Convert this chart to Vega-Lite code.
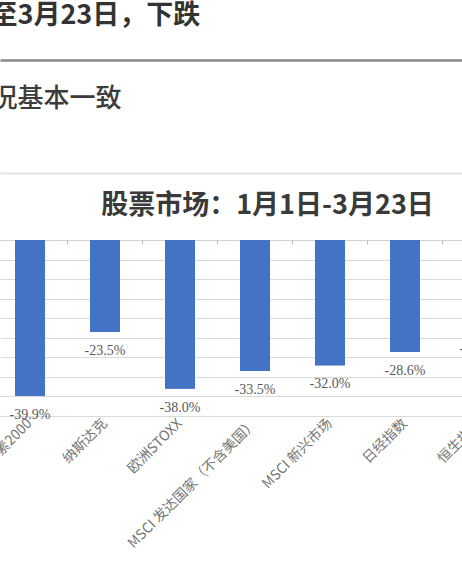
{
  "$schema": "https://vega.github.io/schema/vega-lite/v6.json",
  "width": 510,
  "height": 176,
  "autosize": {"type": "none"},
  "padding": {"left": 0, "top": 240, "right": 0, "bottom": 161},
  "background": "white",
  "config": {
    "view": {"stroke": null},
    "font": "Noto Sans CJK SC",
    "locale": {"number": {"decimal": ".", "thousands": ",", "grouping": [3], "currency": ["", ""], "minus": "-"}}
  },
  "data": {
    "values": [
      {"market": "罗素2000", "change": -0.399},
      {"market": "纳斯达克", "change": -0.235},
      {"market": "欧洲STOXX", "change": -0.38},
      {"market": "MSCI 发达国家（不含美国）", "change": -0.335},
      {"market": "MSCI 新兴市场", "change": -0.32},
      {"market": "日经指数", "change": -0.286},
      {"market": "恒生指数", "change": -0.23}
    ]
  },
  "encoding": {
    "y": {
      "field": "change",
      "type": "quantitative",
      "scale": {"domain": [-0.45, 0], "nice": false, "zero": true},
      "axis": {
        "orient": "left",
        "grid": true,
        "gridColor": "#d9d9d9",
        "gridWidth": 1,
        "domain": false,
        "ticks": false,
        "labels": false,
        "title": null,
        "values": [-0.45, -0.4, -0.35, -0.3, -0.25, -0.2, -0.15, -0.1, -0.05, 0]
      }
    }
  },
  "layer": [
    {
      "mark": {"type": "bar", "color": "#4472C4"},
      "encoding": {
        "x": {
          "field": "market", "type": "nominal", "sort": null,
          "scale": {"paddingInner": 0.6, "paddingOuter": 0.2},
          "axis": {
            "orient": "top", "offset": 0,
            "domain": true, "domainColor": "#d0d0d0", "domainWidth": 1,
            "ticks": true, "tickColor": "#bfbfbf", "tickSize": -4, "bandPosition": 1.75,
            "labels": false, "grid": false,
            "title": "股票市场：1月1日-3月23日",
            "titleFont": "Noto Sans CJK SC", "titleFontSize": 27, "titleFontWeight": "bold",
            "titleColor": "#3a3a3a", "titleAlign": "center", "titleBaseline": "middle",
            "titleX": 267, "titleY": -35
          }
        }
      }
    },
    {
      "mark": {"type": "bar", "color": "#4472C4"},
      "encoding": {
        "x": {
          "field": "market", "type": "nominal", "sort": null,
          "scale": {"paddingInner": 0.6, "paddingOuter": 0.2},
          "axis": {
            "orient": "top", "offset": 180,
            "domain": true, "domainColor": "#8a8a8a", "domainWidth": 2.5,
            "ticks": false, "labels": false, "grid": false,
            "title": "至3月23日，下跌",
            "titleFont": "Noto Sans CJK SC", "titleFontSize": 27, "titleFontWeight": "bold",
            "titleColor": "#333333", "titleAlign": "left", "titleBaseline": "middle",
            "titleX": -10, "titleY": -45
          }
        }
      }
    },
    {
      "mark": {"type": "bar", "color": "#4472C4"},
      "encoding": {
        "x": {
          "field": "market", "type": "nominal", "sort": null,
          "scale": {"paddingInner": 0.6, "paddingOuter": 0.2},
          "axis": {
            "orient": "top", "offset": 67,
            "domain": true, "domainColor": "#e3e3e3", "domainWidth": 2,
            "ticks": false, "labels": false, "grid": false,
            "title": "况基本一致",
            "titleFont": "Noto Sans CJK SC", "titleFontSize": 26, "titleFontWeight": 500,
            "titleColor": "#3c3c3c", "titleAlign": "left", "titleBaseline": "middle",
            "titleX": -9, "titleY": -75
          }
        }
      }
    },
    {
      "mark": {"type": "text", "baseline": "top", "dy": 12, "font": "Liberation Serif", "fontSize": 14, "color": "#595959"},
      "encoding": {
        "x": {
          "field": "market", "type": "nominal", "sort": null,
          "scale": {"paddingInner": 0.6, "paddingOuter": 0.2},
          "axis": {
            "orient": "bottom",
            "domain": false, "ticks": false, "grid": false,
            "labelAngle": -45, "labelAlign": "right", "labelBaseline": "middle",
            "labelFont": "Noto Sans CJK SC", "labelFontSize": 14, "labelColor": "#757575",
            "labelPadding": 5, "labelLimit": 400, "labelOverlap": false,
            "title": null
          }
        },
        "text": {"field": "change", "type": "quantitative", "format": ".1%"}
      }
    }
  ],
  "resolve": {"axis": {"x": "independent"}}
}
